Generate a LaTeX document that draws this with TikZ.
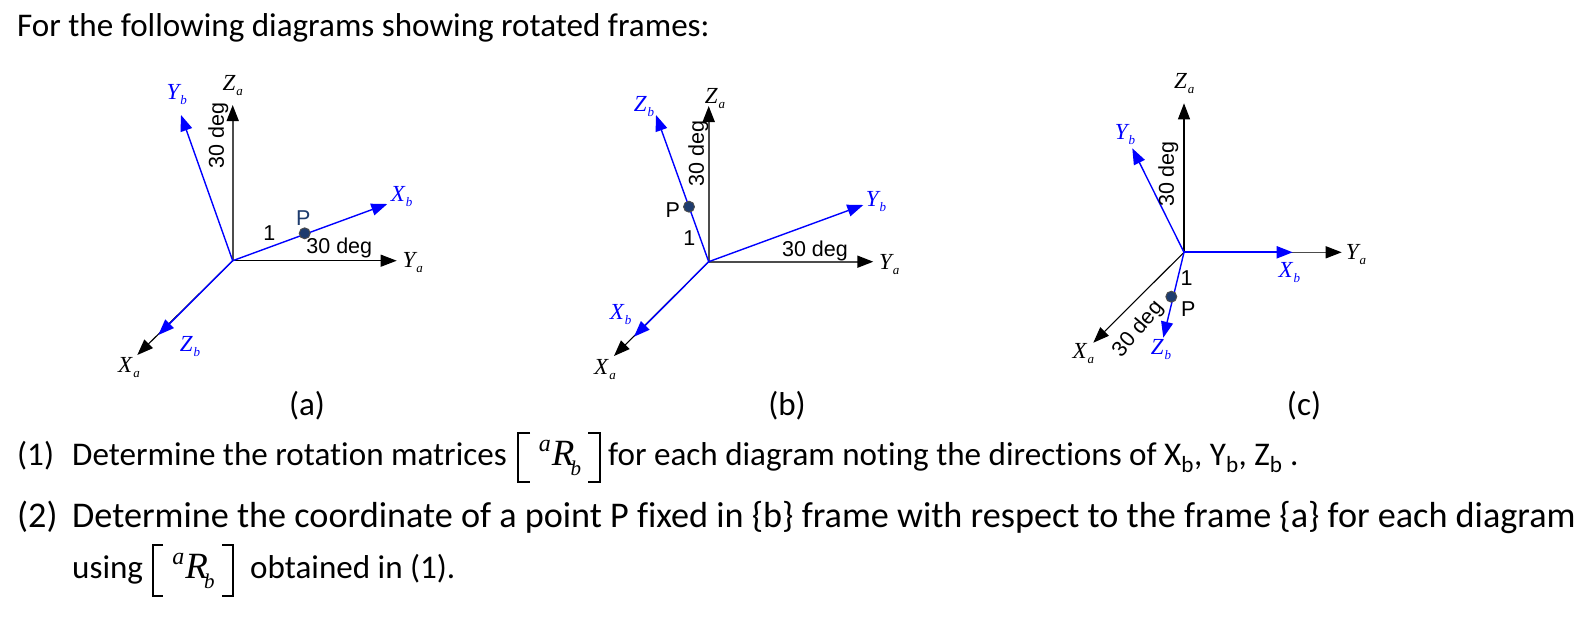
\documentclass[tikz,border=0pt]{standalone}
\usepackage{fontspec}
\setmainfont{Carlito}[Ligatures=NoCommon]
\newfontfamily\arialf{Liberation Sans}
\newfontfamily\timesf{Liberation Serif}
\usetikzlibrary{arrows.meta}
\definecolor{pblue}{RGB}{30,60,110}
\newcommand{\sublab}[2]{{\fontsize{23}{23}\selectfont\timesf\itshape #1}\kern1pt\raisebox{-5pt}{\fontsize{13}{13}\selectfont\timesf\itshape #2}}
\newcommand{\rotmat}{\timesf\itshape\raisebox{14pt}{\fontsize{24}{24}\selectfont a}\kern1pt{\fontsize{37}{37}\selectfont R}\kern-4pt\raisebox{-10pt}{\fontsize{21}{21}\selectfont b}}
\tikzset{
 x=1pt,y=-1pt,
 aaxis/.style={draw=black,line width=1.1pt,-{Triangle[length=16pt,width=12pt]}},
 gaxis/.style={draw=black!70,line width=1.7pt,-{Triangle[length=16pt,width=12pt,color=black]}},
 baxis/.style={draw=blue,line width=1.4pt,-{Triangle[length=16pt,width=12pt]}},
 alab/.style={text=black,inner sep=0pt},
 blab/.style={text=blue,inner sep=0pt},
 ann/.style={font=\arialf\fontsize{21.5}{21.5}\selectfont,inner sep=0pt},
 pdot/.style={circle,fill=pblue,draw=black!70,line width=0.9pt,minimum size=11pt,inner sep=0pt},
 body/.style={font=\fontsize{33.1}{33.1}\selectfont,inner sep=0pt,anchor=base west},
 bodyb/.style={font=\fontsize{36.2}{36.2}\selectfont,inner sep=0pt,anchor=base west},
 brk/.style={draw=black,line width=2pt},
 rmat/.style={inner sep=0pt,anchor=base},
}
\begin{document}
\begin{tikzpicture}
\useasboundingbox (0,0) rectangle (1584,619);
\node[body] (title) at (17,36) {For the following diagrams showing rotated frames:};
% (a)
\coordinate (Oa) at (232.7,260.7);
\coordinate (Zat) at (232.7,105);
\coordinate (Yat) at (396.7,260.7);
\coordinate (Xat) at (137.3,355);
\coordinate (Ybt) at (181,115);
\coordinate (Xbt) at (387.3,204);
\coordinate (Zbt) at (158.3,335);
\draw[gaxis] (Oa)--(Zat);
\draw[aaxis] (Oa)--(Yat);
\draw[aaxis] (Oa)--(Xat);
\draw[baxis] (Oa)--(Ybt);
\draw[baxis] (Oa)--(Xbt);
\draw[baxis] (Oa)--(Zbt);
\node[pdot] (Pa) at (304.7,233.3) {};
\node[ann,text=pblue] (Pal) at (303.3,218.3) {P};
\node[ann] (onea) at (269.3,233.3) {1};
\node[ann] (d1a) at (339.3,248.3) {30 deg};
\node[ann,rotate=90] (d2a) at (218.3,135.7) {30 deg};
\node[alab] (Zal) at (232.7,86) {\sublab{Z}{a}};
\node[alab] (Yal) at (412.7,263) {\sublab{Y}{a}};
\node[alab] (Xal) at (129,368) {\sublab{X}{a}};
\node[blab] (Ybl) at (176.7,95) {\sublab{Y}{b}};
\node[blab] (Xbl) at (401.7,197) {\sublab{X}{b}};
\node[blab] (Zbl) at (190,346.7) {\sublab{Z}{b}};
\node[body,anchor=base] (la) at (307,415) {(a)};
% (b)
\coordinate (Ob) at (708.7,261.7);
\coordinate (Zbat) at (708.7,106);
\coordinate (Ybat) at (873.3,261.7);
\coordinate (Xbat) at (614,356);
\coordinate (Zbbt) at (656,115);
\coordinate (Ybbt) at (863.3,205);
\coordinate (Xbbt) at (634,336.7);
\draw[gaxis] (Ob)--(Zbat);
\draw[gaxis] (Ob)--(Ybat);
\draw[aaxis] (Ob)--(Xbat);
\draw[baxis] (Ob)--(Zbbt);
\draw[baxis] (Ob)--(Ybbt);
\draw[baxis] (Ob)--(Xbbt);
\node[pdot] (Pb) at (689,206.7) {};
\node[ann] (Pbl) at (672.7,210) {P};
\node[ann] (oneb) at (689.3,237.7) {1};
\node[ann] (d1b) at (815,251) {30 deg};
\node[ann,rotate=90] (d2b) at (698.3,153.3) {30 deg};
\node[alab] (Zbal) at (715,98.3) {\sublab{Z}{a}};
\node[alab] (Ybal) at (889.3,265) {\sublab{Y}{a}};
\node[alab] (Xbal) at (605,370) {\sublab{X}{a}};
\node[blab] (Zbbl) at (644,106.7) {\sublab{Z}{b}};
\node[blab] (Ybbl) at (876,201.7) {\sublab{Y}{b}};
\node[blab] (Xbbl) at (620.7,315) {\sublab{X}{b}};
\node[body,anchor=base] (lb) at (787,415) {(b)};
% (c)
\coordinate (Oc) at (1184,252.3);
\coordinate (Zcat) at (1184,103.3);
\coordinate (Ycat) at (1341.7,252.3);
\coordinate (Xcat) at (1093.3,342.7);
\coordinate (Ycbt) at (1132.3,148.3);
\coordinate (Xcbt) at (1292.7,252.3);
\coordinate (Zcbt) at (1163.3,337.7);
\draw[aaxis] (Oc)--(Zcat);
\draw[gaxis,line width=1.3pt] (Oc)--(Ycat);
\draw[aaxis] (Oc)--(Xcat);
\draw[baxis] (Oc)--(Ycbt);
\draw[baxis,line width=2pt] (Oc)--(Xcbt);
\draw[baxis] (Oc)--(Zcbt);
\node[pdot] (Pc) at (1171.3,296.7) {};
\node[ann] (Pcl) at (1188.3,309.3) {P};
\node[ann] (onec) at (1186.7,278.3) {1};
\node[ann,rotate=90] (d2c) at (1168.3,174) {30 deg};
\node[ann,rotate=50] (d1c) at (1138.3,329.3) {30 deg};
\node[alab] (Zcal) at (1184.3,83.3) {\sublab{Z}{a}};
\node[alab] (Ycal) at (1356,255) {\sublab{Y}{a}};
\node[alab] (Xcal) at (1083.3,353.3) {\sublab{X}{a}};
\node[blab] (Ycbl) at (1125,135) {\sublab{Y}{b}};
\node[blab] (Xcbl) at (1289.3,272.3) {\sublab{X}{b}};
\node[blab] (Zcbl) at (1161,349.3) {\sublab{Z}{b}};
\node[body,anchor=base] (lc) at (1304,415) {(c)};
% text
\node[body] (n1) at (17,465) {(1)};
\node[body] (t1) at (72,465) {Determine the rotation matrices};
\draw[brk] (530,433) -- (518,433) -- (518,482) -- (530,482);
\node[rmat] (r1) at (560,465) {\rotmat};
\draw[brk] (588,433) -- (600,433) -- (600,482) -- (588,482);
\node[body] (t1b) at (608,465) {for each diagram noting the directions of X\textsubscript{b}, Y\textsubscript{b}, Z\textsubscript{b} .};
\node[bodyb] (n2) at (17,527) {(2)};
\node[bodyb] (t2) at (72,527) {Determine the coordinate of a point P fixed in \{b\} frame with respect to the frame \{a\} for each diagram};
\node[body] (t3) at (72,578) {using};
\draw[brk] (163,545) -- (153,545) -- (153,596) -- (163,596);
\node[rmat] (r2) at (193.5,578) {\rotmat};
\draw[brk] (222,545) -- (233,545) -- (233,596) -- (222,596);
\node[body] (t3b) at (250,578) {obtained in (1).};
\end{tikzpicture}
\end{document}
